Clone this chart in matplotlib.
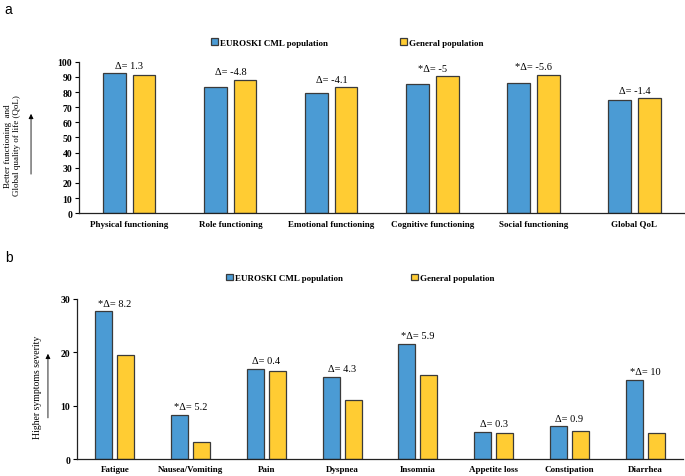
import matplotlib
matplotlib.use("Agg")
import matplotlib.pyplot as plt
import numpy as np

# Panel a data
cats_a = ["Physical functioning", "Role functioning", "Emotional functioning",
          "Cognitive functioning", "Social functioning", "Global QoL"]
euro_a = [92.3, 83.3, 79.2, 85.4, 85.8, 74.4]
gen_a = [91.0, 88.1, 83.3, 90.4, 91.4, 75.8]
delta_a = ["Δ= 1.3", "Δ= -4.8", "Δ= -4.1", "*Δ= -5", "*Δ= -5.6", "Δ= -1.4"]
yticks_a = [0, 10, 20, 30, 40, 50, 60, 70, 80, 90, 100]

# Panel b data
cats_b = ["Fatigue", "Nausea/Vomiting", "Pain", "Dyspnea", "Insomnia",
          "Appetite loss", "Constipation", "Diarrhea"]
euro_b = [27.7, 8.3, 16.9, 15.4, 21.6, 5.1, 6.1, 14.9]
gen_b = [19.5, 3.1, 16.5, 11.1, 15.7, 4.8, 5.2, 4.9]
delta_b = ["*Δ= 8.2", "*Δ= 5.2", "Δ= 0.4", "Δ= 4.3", "*Δ= 5.9", "Δ= 0.3",
           "Δ= 0.9", "*Δ= 10"]
yticks_b = [0, 10, 20, 30]

series_names = ["EUROSKI CML population", "General population"]

BLUE = "#4B9BD4"
YELLOW = "#FFCC33"
EDGE = "#3a3a3a"
SERIF = "Liberation Serif"

fig = plt.figure(figsize=(6.85, 4.77), dpi=100)

def panel(rect, cats, euro, gen, deltas, yticks, ylim, leg_anchor, colsp):
    ax = fig.add_axes(rect)
    x = np.arange(len(cats))
    w = 0.225
    off = 0.145
    b1 = ax.bar(x - off, euro, w, color=BLUE, edgecolor=EDGE, linewidth=0.9,
                label=series_names[0])
    b2 = ax.bar(x + off, gen, w, color=YELLOW, edgecolor=EDGE, linewidth=0.9,
                label=series_names[1])
    for xi, e, g, d in zip(x, euro, gen, deltas):
        ax.annotate(d, (xi, max(e, g)), xytext=(0, 2.5), textcoords="offset points",
                    ha="center", va="bottom", fontsize=7.5, family=SERIF)
    ax.set_xlim(-0.5, len(cats) - 0.5)
    ax.set_ylim(*ylim)
    ax.set_yticks(yticks)
    ax.set_xticks(x)
    ax.set_xticklabels(cats, fontsize=6.5, family=SERIF, fontweight="bold")
    ax.set_yticklabels([str(t) for t in yticks], fontsize=7, family=SERIF,
                       fontweight="bold")
    ax.tick_params(axis="x", length=0, pad=4.5)
    ax.tick_params(axis="y", length=3, width=0.8, direction="out", pad=2)
    for s in ["top", "right"]:
        ax.spines[s].set_visible(False)
    for s in ["left", "bottom"]:
        ax.spines[s].set_linewidth(0.9)
        ax.spines[s].set_color("#222222")
    fig.legend(handles=[b1, b2], loc="center", bbox_to_anchor=leg_anchor,
               ncol=2, frameon=False, columnspacing=colsp, handlelength=0.75,
               handleheight=0.75, handletextpad=0.2,
               prop={"family": SERIF, "weight": "bold", "size": 6.5})
    return ax

ax_a = panel([0.1153, 0.5507, 0.8847, 0.3179], cats_a, euro_a, gen_a, delta_a,
             yticks_a, (0, 100), (0.507, 0.909), 8.0)
ax_b = panel([0.1124, 0.0356, 0.8847, 0.3355], cats_b, euro_b, gen_b, delta_b,
             yticks_b, (0, 30), (0.526, 0.415), 7.6)

# panel letters
fig.text(0.007, 0.978, "a", fontsize=10, family="Liberation Sans", va="center")
fig.text(0.007, 0.459, "b", fontsize=10, family="Liberation Sans", va="center")

# y labels
fig.text(0.018, 0.694, "Better functioning  and\nGlobal quality of life (QoL)",
         rotation=90, ha="center", va="center", fontsize=6.5, family=SERIF,
         linespacing=1.1)
fig.text(0.055, 0.187, "Higher symptoms severity", rotation=90, ha="center",
         va="center", fontsize=7, family=SERIF)

# arrows
arrowprops = dict(arrowstyle="-|>", color="black", lw=0.6, mutation_scale=7)
fig.add_artist(matplotlib.patches.FancyArrowPatch((0.0453, 0.627), (0.0453, 0.765),
               transform=fig.transFigure, **arrowprops))
fig.add_artist(matplotlib.patches.FancyArrowPatch((0.070, 0.116), (0.070, 0.262),
               transform=fig.transFigure, **arrowprops))

fig.savefig("out.png", dpi=100)
